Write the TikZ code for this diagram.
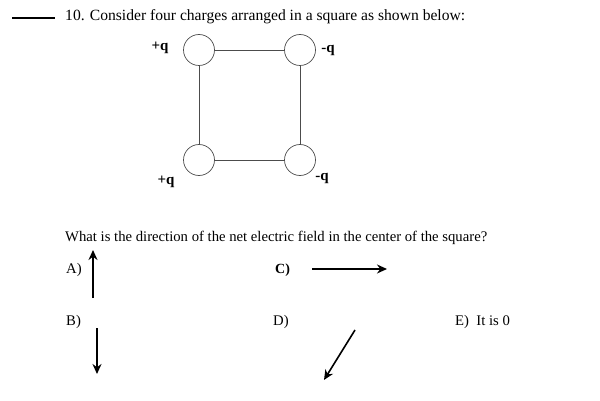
\documentclass[tikz,border=0pt]{standalone}
\usepackage{fontspec}
\setmainfont{Liberation Serif}
\usetikzlibrary{arrows.meta}
\begin{document}
\begin{tikzpicture}[x=1pt,y=-1pt,
  charge/.style={circle,draw=black!70,line width=0.7pt,minimum size=31pt,inner sep=0pt},
  txt/.style={anchor=west,inner sep=0pt,font=\fontsize{14.7}{17}\selectfont},
  lbl/.style={inner sep=0pt,font=\bfseries\fontsize{15}{17}\selectfont},
  arr/.style={line width=1.6pt,-{Stealth[length=10pt,width=9pt]}}]
\useasboundingbox (0,0) rectangle (600,401);
\coordinate (l1) at (12,18); \coordinate (l2) at (55,18);
\draw[line width=1.6pt] (l1) -- (l2);
\node[txt,font=\fontsize{15.6}{18}\selectfont] (t) at (65,17) {10. Consider four charges arranged in a square as shown below:};
\node[charge] (a) at (199,50) {};
\node[charge] (b) at (300,50) {};
\node[charge] (c) at (199,160) {};
\node[charge] (d) at (300,160) {};
\draw[black!70,line width=0.7pt] (a)--(b) (b)--(d) (d)--(c) (c)--(a);
\node[lbl] (qa) at (160,48) {+q};
\node[lbl] (qb) at (328,50) {-q};
\node[lbl] (qc) at (166,182) {+q};
\node[lbl] (qd) at (322,178) {-q};
\node[txt] (q) at (65,238) {What is the direction of the net electric field in the center of the square?};
\node[txt] (A) at (66,270) {A)};
\coordinate (a1) at (93,298); \coordinate (a2) at (93,250);
\draw[arr] (a1) -- (a2);
\node[txt,font=\bfseries\fontsize{14}{16}\selectfont] (C) at (275,270) {C)};
\coordinate (c1) at (312,269); \coordinate (c2) at (387,269);
\draw[arr] (c1) -- (c2);
\node[txt] (B) at (66,322) {B)};
\coordinate (b1) at (97,328); \coordinate (b2) at (97,374);
\draw[arr] (b1) -- (b2);
\node[txt] (D) at (273,322) {D)};
\coordinate (d1) at (355,330); \coordinate (d2) at (324,380);
\draw[arr] (d1) -- (d2);
\node[txt] (E) at (455,322) {E)\ \ It is 0};
\end{tikzpicture}
\end{document}
